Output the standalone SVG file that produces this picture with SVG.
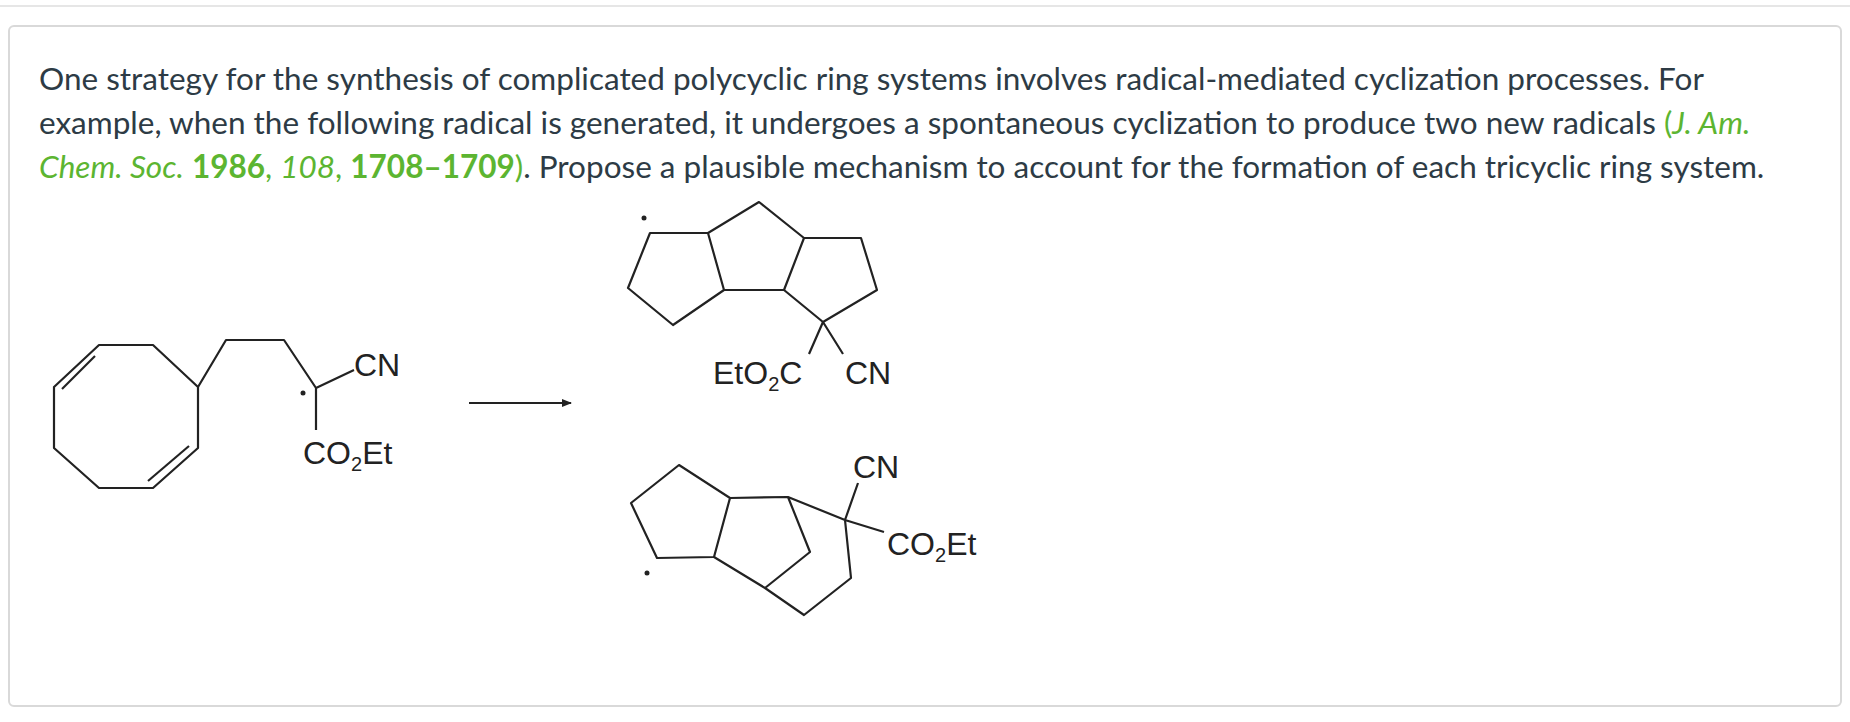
<svg xmlns="http://www.w3.org/2000/svg" width="1850" height="722" viewBox="0 0 1850 722">
<style>
.t{font-family:Lato,"Liberation Sans",sans-serif;font-size:31.5px;fill:#2d3b45}
.g{fill:#5cb531}
.b{font-weight:bold}
.i{font-style:italic}
.l{font-family:"Liberation Sans",Arial,sans-serif;font-size:32px;fill:#222}
.s{font-size:20px}
.bd{stroke:#222;stroke-width:2.2;fill:none;stroke-linejoin:round}
</style>
<defs><marker id="ah" markerWidth="10" markerHeight="8" refX="9" refY="4" orient="auto" markerUnits="userSpaceOnUse"><path d="M0,0 L10,4 L0,8 z" fill="#222"/></marker></defs>
<rect width="1850" height="722" fill="#fff"/>
<line x1="0" y1="6" x2="1850" y2="6" stroke="#e6e6e6" stroke-width="2"/>
<rect x="9" y="26" width="1832" height="680" rx="5" fill="#fff" stroke="#d9d9d9" stroke-width="2"/>
<g id="question">
<text class="t" x="39" y="90">One strategy for the synthesis of complicated polycyclic ring systems involves radical-mediated cyclization processes. For</text>
<text class="t" x="39" y="134">example, when the following radical is generated, it undergoes a spontaneous cyclization to produce two new radicals <tspan class="g">(</tspan><tspan class="g i">J. Am.</tspan></text>
<text class="t" x="39" y="178"><tspan class="g i">Chem. Soc.</tspan> <tspan class="g b">1986</tspan><tspan class="g">, </tspan><tspan class="g i">108</tspan><tspan class="g">, </tspan><tspan class="g b">1708–1709</tspan><tspan class="g">)</tspan>. Propose a plausible mechanism to account for the formation of each tricyclic ring system.</text>
</g>
<g id="reactant">
<path class="bd" d="M99,345 L153,345 L198,387 L198,448 L153,488 L99,488 L54,448 L54,387 Z"/>
<line class="bd" x1="95" y1="356" x2="62" y2="389"/>
<line class="bd" x1="189" y1="446" x2="148" y2="481"/>
<path class="bd" d="M198,387 L226,340 L284,340 L316,388 L354,370 M316,388 L316,430"/>
<circle cx="303" cy="393" r="2.5" fill="#222"/>
<text class="l" x="354" y="376">CN</text>
<text class="l" x="303" y="464">CO<tspan class="s" dy="7">2</tspan><tspan dy="-7">Et</tspan></text>
</g>
<g id="connectors">
<line class="bd" x1="469" y1="403" x2="571" y2="403" marker-end="url(#ah)"/>
</g>
<g id="product1">
<path class="bd" d="M650,233 L708,233 L724,290 L673,325 L628,288 Z"/>
<path class="bd" d="M708,233 L759,202 L804,238 L784,290 L724,290"/>
<path class="bd" d="M804,238 L861,238 L877,290 L823,322 L784,290"/>
<path class="bd" d="M823,322 L809,354 M823,322 L843,354"/>
<circle cx="644" cy="218" r="2.5" fill="#222"/>
<text class="l" x="713" y="384">EtO<tspan class="s" dy="7">2</tspan><tspan dy="-7">C</tspan></text>
<text class="l" x="845" y="384">CN</text>
</g>
<g id="product2">
<path class="bd" d="M679,465 L730,498 L714,557 L657,558 L631,503 Z"/>
<path class="bd" d="M730,498 L788,497 L845,520 L884,532 M858,483 L845,520 L851,578 L804,615 L765,588 L714,557 M788,497 L810,552 L765,588"/>
<circle cx="647" cy="573" r="2.5" fill="#222"/>
<text class="l" x="853" y="478">CN</text>
<text class="l" x="887" y="555">CO<tspan class="s" dy="7">2</tspan><tspan dy="-7">Et</tspan></text>
</g>
</svg>
